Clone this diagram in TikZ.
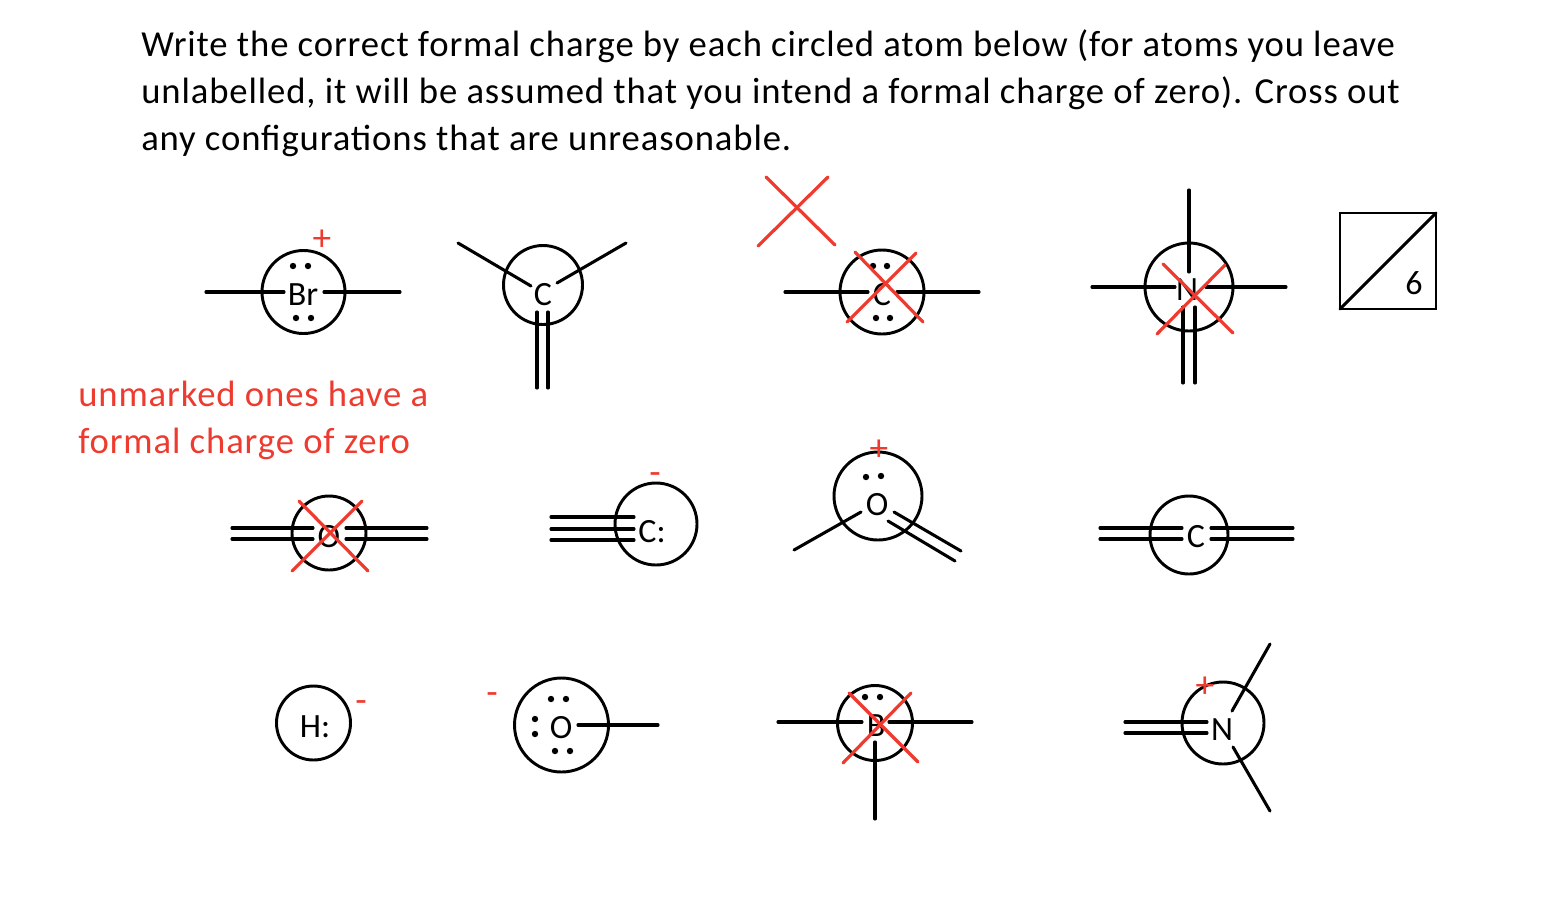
\documentclass[tikz,border=0pt]{standalone}
\usepackage{fontspec}
\setmainfont{Carlito}
\newfontface\prosefont[LetterSpace=2.45]{Carlito}
\definecolor{markred}{HTML}{EE3B30}
\tikzset{
  atom/.style={circle,draw=black,line width=2.2pt,inner sep=0pt,minimum size=#1*0.75pt},
  elem/.style={anchor=base,inner sep=0pt,font=\fontsize{25.5}{25.5}\selectfont,text=black},
  bond/.style={line width=2.3pt,draw=black,line cap=round},
  cross/.style={line width=2.4pt,draw=markred,line cap=round},
  lp/.style={circle,fill=black,inner sep=0pt,minimum size=4.8pt},
  charge/.style={anchor=center,inner sep=0pt,text=markred,font=\fontsize{28}{28}\selectfont},
  prose/.style={anchor=base west,inner sep=0pt,font=\prosefont\fontsize{27.5}{27.5}\selectfont},
}
\begin{document}
\begin{tikzpicture}[x=0.75pt,y=-0.75pt]
\useasboundingbox (0,0) rectangle (1566,908);
% prose
\node[prose] (t1) at (141,56) {Write the correct formal charge by each circled atom below (for atoms you leave};
\node[prose] (t2) at (141,103) {unlabelled, it will be assumed that you intend a formal charge of zero). Cross out};
\node[prose] (t3) at (141,150) {any configurations that are unreasonable.};
\node[prose,text=markred] (r1) at (78,406) {unmarked ones have a};
\node[prose,text=markred] (r2) at (78,453) {formal charge of zero};
% atoms
\node[atom=83] (A1) at (303.5,292) {};
\node[elem] (L1) at (303,305) {Br};
\node[atom=79] (A2) at (543,285) {};
\node[elem] (L2) at (543,305) {C};
\node[atom=84] (A3) at (882,292) {};
\node[elem] (L3) at (882,305) {C};
\node[atom=88] (A4) at (1189,287) {};
\node[elem] (L4) at (1187,300) {N};
\node[atom=74] (A5) at (329,533) {};
\node[elem] (L5) at (329,547) {O};
\node[atom=82] (A6) at (656,524) {};
\node[elem] (L6) at (652,542) {C:};
\node[atom=88] (A7) at (878,496) {};
\node[elem] (L7) at (877,515) {O};
\node[atom=78] (A8) at (1189,535) {};
\node[elem] (L8) at (1196,547) {C};
\node[atom=74] (A9) at (313.5,723) {};
\node[elem] (L9) at (315,737) {H:};
\node[atom=94] (A10) at (561.5,725) {};
\node[elem] (L10) at (561,738) {O};
\node[atom=75] (A11) at (875,723) {};
\node[elem] (L11) at (876,736) {B};
\node[atom=82] (A12) at (1223,723) {};
\node[elem] (L12) at (1222,740) {N};
% lone pairs
\foreach \n/\x/\y in {a/293/266,b/308/266,c/296/318,d/311/318,
  e/873/266,f/887/266,g/876/318,h/890/318,
  i/866/477,j/881/476,
  k/551/699,l/566/699,m/555/751,n/570/751,o/535/719,p/535/734,
  q/865/697,r/880/697}
  \node[lp] (lp\n) at (\x,\y) {};
% bond ends
\foreach \n/\x/\y in {
  a1/206/292,a2/284/292,a3/324/292,a4/400/292,
  b1/458/243,b2/531/286,b3/626/243,b4/557/283,b5/537/312,b6/537/388,b7/548/312,b8/548/388,
  c1/785/292,c2/868/292,c3/897/292,c4/979/292,
  d1/1189/190,d2/1189/272,d3/1092/287,d4/1175/287,d5/1206/287,d6/1286/287,d7/1183/307,d8/1183/383,d9/1195/307,d10/1195/383,
  e1/232/528,e2/313/528,e3/232/539,e4/313/539,e5/346/528,e6/427/528,e7/346/539,e8/427/539,
  f1/551/517,f2/634/517,f3/551/529,f4/634/529,f5/551/540,f6/634/540,
  g1/794/550,g2/861/512,g3/894/512,g4/961/551,g5/888/521,g6/955/561,
  h1/1100/528,h2/1182/528,h3/1100/539,h4/1182/539,h5/1211/528,h6/1293/528,h7/1211/539,h8/1293/539,
  i1/578/725,i2/658/725,
  j1/778/722,j2/862/722,j3/889/722,j4/972/722,j5/875/742,j6/875/819,
  k1/1125/722,k2/1207/722,k3/1125/733,k4/1207/733,k5/1270/644,k6/1232/711,k7/1233/747,k8/1270/811}
  \coordinate (\n) at (\x,\y);
\foreach \p/\q in {a1/a2,a3/a4,b1/b2,b3/b4,b5/b6,b7/b8,c1/c2,c3/c4,d1/d2,d3/d4,d5/d6,d7/d8,d9/d10,
  e1/e2,e3/e4,e5/e6,e7/e8,f1/f2,f3/f4,f5/f6,g1/g2,g3/g4,g5/g6,
  h1/h2,h3/h4,h5/h6,h7/h8,i1/i2,j1/j2,j3/j4,j5/j6,k1/k2,k3/k4,k5/k6,k7/k8}
  \draw[bond] (\p) -- (\q);
% box with diagonal
\node[draw=black,line width=2.2pt,minimum size=72pt,inner sep=0pt,outer sep=0pt] (box) at (1388,261) {};
\draw[bond] (box.south west) -- (box.north east);
\node[elem] (six) at (1414,294) {6};
% charges
\node[charge] (q1) at (322,240) {+};
\node[charge] (q2) at (655,479) {-};
\node[charge] (q3) at (879,450) {+};
\node[charge] (q4) at (361,707) {-};
\node[charge] (q5) at (492,699) {-};
\node[charge] (q6) at (1205,687) {+};
% crosses
\foreach \n/\ax/\ay/\bx/\by/\cx/\cy/\dx/\dy in {
  x1/766/177/835/245/758/246/828/177,
  x2/855/252/923/322/916/253/847/322,
  x3/1163/264/1233/333/1225/265/1157/334,
  x4/299/501/368/571/362/501/292/571,
  x5/849/693/918/762/911/693/843/763}{
  \coordinate (\n a) at (\ax,\ay);
  \coordinate (\n b) at (\bx,\by);
  \coordinate (\n c) at (\cx,\cy);
  \coordinate (\n d) at (\dx,\dy);
  \draw[cross] (\n a) -- (\n b);
  \draw[cross] (\n c) -- (\n d);
}
\end{tikzpicture}
\end{document}
